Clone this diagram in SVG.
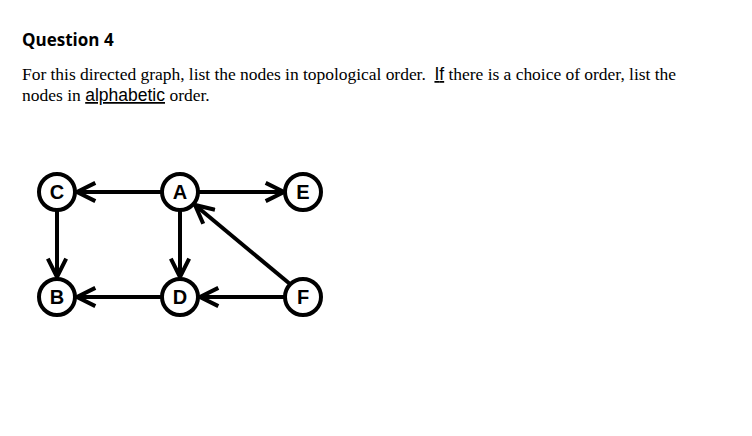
<svg xmlns="http://www.w3.org/2000/svg" width="752" height="436" viewBox="0 0 752 436">
<style>
.t{font-family:"Liberation Serif",serif;font-size:17.5px;fill:#000;white-space:pre}
.a{font-family:"Liberation Sans",sans-serif}
.n circle{fill:#fff;stroke:#000;stroke-width:4}
.n text{font-family:"Liberation Sans",sans-serif;font-weight:bold;font-size:20px;text-anchor:middle;fill:#000}
.e line{stroke:#000;stroke-width:4}
</style>
<defs>
<marker id="h" viewBox="0 0 12 12" refX="11" refY="6" markerWidth="5.5" markerHeight="5.5" orient="auto" markerUnits="strokeWidth">
<path d="M1,1 L11,6 L1,11" fill="none" stroke="#000" stroke-width="2.2"/>
</marker>
</defs>
<rect width="752" height="436" fill="#fff"/>
<text x="22" y="46" font-family="Open Sans,sans-serif" font-weight="bold" font-size="17">Question 4</text>
<text class="t" x="22" y="80" xml:space="preserve" textLength="654">For this directed graph, list the nodes in topological order.  <tspan class="a" text-decoration="underline">If</tspan> there is a choice of order, list the</text>
<text class="t" x="22" y="101">nodes in <tspan class="a" text-decoration="underline">alphabetic</tspan> order.</text>
<g class="e">
<line x1="161" y1="192" x2="77" y2="192" marker-end="url(#h)"/>
<line x1="199" y1="192" x2="284" y2="192" marker-end="url(#h)"/>
<line x1="57" y1="211" x2="57" y2="277" marker-end="url(#h)"/>
<line x1="180" y1="211" x2="180" y2="277" marker-end="url(#h)"/>
<line x1="161" y1="297" x2="77" y2="297" marker-end="url(#h)"/>
<line x1="284" y1="297" x2="200" y2="297" marker-end="url(#h)"/>
<line x1="290" y1="284" x2="195" y2="205" marker-end="url(#h)"/>
</g>
<g id="C" class="n"><circle cx="57" cy="192" r="18"/><text x="57" y="199">C</text></g>
<g id="A" class="n"><circle cx="180" cy="192" r="18"/><text x="180" y="199">A</text></g>
<g id="E" class="n"><circle cx="303" cy="192" r="18"/><text x="303" y="199">E</text></g>
<g id="B" class="n"><circle cx="57" cy="297" r="18"/><text x="57" y="304">B</text></g>
<g id="D" class="n"><circle cx="180" cy="297" r="18"/><text x="180" y="304">D</text></g>
<g id="F" class="n"><circle cx="303" cy="297" r="18"/><text x="303" y="304">F</text></g>
</svg>
